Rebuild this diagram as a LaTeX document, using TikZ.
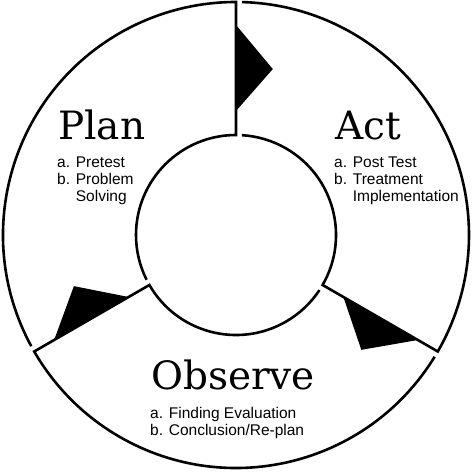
\documentclass[tikz,border=0pt]{standalone}
\usepackage{fontspec}
\newfontfamily\stepfont{Liberation Sans}
\newfontfamily\phasefont{DejaVu Serif}
\usetikzlibrary{positioning}

\begin{document}
\begin{tikzpicture}[
    x=1pt, y=1pt,
    ringline/.style={line width=2.6pt},
    flagtip/.style={fill=black},
    phase/.style={font=\phasefont\fontsize{39}{39}\selectfont, inner sep=0pt, anchor=base west},
    steps/.style={font=\stepfont\fontsize{15.5}{17}\selectfont, align=left, inner sep=0pt},
    node distance=16pt and -1pt
    ]
    \useasboundingbox (0,0) rectangle (474,474);
    \coordinate (C) at (236,239);

    %Ring pieces
    \draw[ringline] ([shift={(208.5:233)}]C) arc[start angle=208.5, end angle=90, radius=233]
        -- ([shift={(90:100)}]C) arc[start angle=90, end angle=206.6, radius=100];
    \draw[ringline] ([shift={(88.5:233)}]C) arc[start angle=88.5, end angle=-30, radius=233]
        -- ([shift={(-30:100)}]C) arc[start angle=-30, end angle=86.6, radius=100];
    \draw[ringline] ([shift={(-31.5:233)}]C) arc[start angle=-31.5, end angle=-150, radius=233]
        -- ([shift={(-150:100)}]C) arc[start angle=-150, end angle=-33.4, radius=100];

    %Flags
    \fill[flagtip] ([shift={(90:124)}]C) -- ([shift={(90:210)}]C) -- ([shift={(77.5:170)}]C) -- cycle;
    \fill[flagtip] ([shift={(-30:124)}]C) -- ([shift={(-30:210)}]C) -- ([shift={(-42.5:170)}]C) -- cycle;
    \fill[flagtip] ([shift={(210:124)}]C) -- ([shift={(210:210)}]C) -- ([shift={(197.5:170)}]C) -- cycle;

    %Labels
    \node[phase] (plan) at (58,334) {Plan};
    \node[steps] (plansteps) [below right=of plan.south west] {a. Pretest\\b. Problem\\\phantom{b. }Solving};

    \node[phase] (act) at (335,334) {Act};
    \node[steps] (actsteps) [below right=of act.south west] {a. Post Test\\b. Treatment\\\phantom{b. }Implementation};

    \node[phase] (observe) at (151,84) {Observe};
    \node[steps] (observesteps) [below right=of observe.south west] {a. Finding Evaluation\\b. Conclusion/Re-plan};
\end{tikzpicture}
\end{document}
